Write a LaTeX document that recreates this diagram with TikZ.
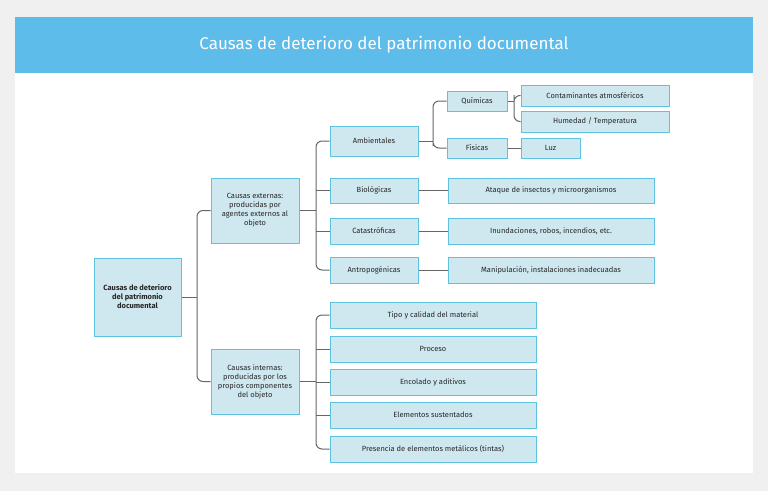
\documentclass[tikz,border=0pt]{standalone}
\usepackage{fontspec}
\setmainfont{Fira Sans}
\begin{document}
\begin{tikzpicture}[x=1pt,y=-1pt,
 bx/.style={draw=boxline,fill=boxfill,line width=1pt,inner sep=1pt,align=center,font=\fontsize{7.5}{9}\selectfont,text=black!85},
 ln/.style={draw=gray!80!black,line width=1pt,rounded corners=6pt}]
\definecolor{boxfill}{HTML}{CFE8F0}
\definecolor{boxline}{HTML}{5CC2DE}
\definecolor{hdr}{HTML}{5EBCEA}
\fill[gray!12] (0,0) rectangle (768,491);
\fill[white] (15,73) rectangle (753,473);
\fill[hdr] (15,17) rectangle (753,73);
\node[text=white,font=\fontsize{17}{20}\selectfont] (title) at (384,45) {Causas de deterioro del patrimonio documental};
\newcommand{\bxn}[6]{\node[bx,minimum width=#4-#2,minimum height=#5-#3] (#1) at ({(#2+#4)/2},{(#3+#5)/2}) {#6};}
\bxn{root}{94}{258}{181}{336}{\textbf{Causas de deterioro}\\\textbf{del patrimonio}\\\textbf{documental}}
\bxn{ext}{211}{178}{299}{243}{Causas externas:\\producidas por\\agentes externos al\\objeto}
\bxn{int}{211}{349}{299}{414}{Causas internas:\\producidas por los\\propios componentes\\del objeto}
\bxn{amb}{330}{126}{418}{156}{Ambientales}
\bxn{bio}{330}{178}{418}{203}{Biológicas}
\bxn{cat}{330}{218}{418}{244}{Catastróficas}
\bxn{ant}{330}{257}{418}{283}{Antropogénicas}
\bxn{qui}{447}{91}{507}{111}{Químicas}
\bxn{fis}{447}{138}{507}{158}{Físicas}
\bxn{con}{521}{85}{669}{106}{Contaminantes atmosféricos}
\bxn{hum}{521}{111}{669}{132}{Humedad / Temperatura}
\bxn{luz}{521}{138}{580}{158}{Luz}
\bxn{ata}{448}{178}{654}{203}{Ataque de insectos y microorganismos}
\bxn{inu}{448}{218}{654}{244}{Inundaciones, robos, incendios, etc.}
\bxn{man}{448}{257}{654}{283}{Manipulación, instalaciones inadecuadas}
\bxn{i1}{330}{302}{536}{328}{Tipo y calidad del material}
\bxn{i2}{330}{336}{536}{362}{Proceso}
\bxn{i3}{330}{369}{536}{395}{Encolado y aditivos}
\bxn{i4}{330}{402}{536}{428}{Elementos sustentados}
\bxn{i5}{330}{436}{536}{462}{Presencia de elementos metálicos (tintas)}
% root
\draw[ln] (ext.west) -| (197,297) |- (int.west);
\draw[ln] (root.east) -- (root.east -| 197,0);
% external
\draw[ln] (amb.west) -| (316,211) |- (ant.west);
\draw[ln] (ext.east) -- (ext.east -| 316,0);
\draw[ln] (bio.west) -- (bio.west -| 316,0);
\draw[ln] (cat.west) -- (cat.west -| 316,0);
% internal
\draw[ln] (i1.west) -| (316,381) |- (i5.west);
\draw[ln] (int.east) -- (int.east -| 316,0);
\draw[ln] (i2.west) -- (i2.west -| 316,0);
\draw[ln] (i3.west) -- (i3.west -| 316,0);
\draw[ln] (i4.west) -- (i4.west -| 316,0);
% ambientales
\draw[ln] (qui.west) -| (433,140) |- (fis.west);
\draw[ln] (amb.east) -- (amb.east -| 433,0);
\draw[ln] (con.west) -| (514,101) |- (hum.west);
\draw[ln] (qui.east) -- (qui.east -| 514,0);
\draw[ln] (fis.east) -- (luz.west);
\draw[ln] (bio.east) -- (ata.west);
\draw[ln] (cat.east) -- (inu.west);
\draw[ln] (ant.east) -- (man.west);
\end{tikzpicture}
\end{document}
